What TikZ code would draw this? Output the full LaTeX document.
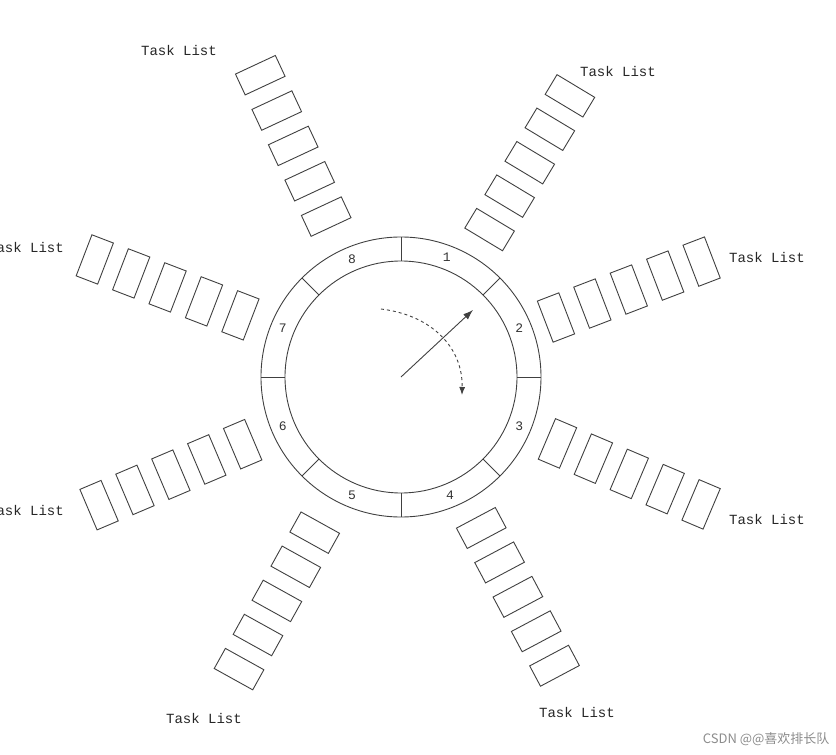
\documentclass[tikz,border=0pt]{standalone}
\usepackage{fontspec}
\setmainfont{Liberation Mono}
\newfontfamily\cjk{Noto Sans CJK SC}
\usetikzlibrary{arrows.meta}
\begin{document}
\begin{tikzpicture}[x=1pt,y=1pt,
  ln/.style={draw=black!75, line width=0.9pt},
  tbox/.style={ln, minimum width=23pt, minimum height=44pt, inner sep=0pt},
  lbl/.style={font=\fontsize{14}{16}\selectfont, text=black!85},
  num/.style={font=\fontsize{13}{15}\selectfont, text=black!80}]
\useasboundingbox (-401,-378) rectangle (435,377);
\begin{scope}
\clip (-401,-378) rectangle (435,377);
\coordinate (c) at (0,0);
\draw[ln] (c) circle (140);
\draw[ln] (c) circle (116);
\foreach \a in {0,45,...,315} \draw[ln] (\a:116) -- (\a:140);
\foreach \n/\a in {1/69,2/22.5,3/-22.5,4/-67.5,5/-112.5,6/-157.5,7/157.5,8/112.5}
  \node[num] (n\n) at (\a:128) {\n};
% arms
\foreach \k/\a/\d in {a/59/172,b/21/166,c/-23/170,d/-62/171,e/-119/178,f/203/172,g/159/172,h/115/177}{
  \foreach \i in {0,...,4}
    \node[tbox, rotate=\a] (\k\i) at (\a:\d+\i*39) {};
}
\node[lbl] (la) at (217,306) {Task List};
\node[lbl] (lb) at (366,120) {Task List};
\node[lbl] (lc) at (366,-142) {Task List};
\node[lbl] (ld) at (176,-335) {Task List};
\node[lbl] (le) at (-197,-341) {Task List};
\node[lbl] (lf) at (-375,-133) {Task List};
\node[lbl] (lg) at (-375,130) {Task List};
\node[lbl] (lh) at (-222,327) {Task List};
% hands
\coordinate (tip) at (72,67);
\draw[ln, -{Latex[length=10pt,width=7pt]}] (c) -- (tip);
\coordinate (s) at (-20,68);
\coordinate (e) at (61,-18);
\draw[ln, dashed, -{Latex[length=8pt,width=6pt]}] (s) .. controls (30,62) and (62,30) .. (e);
\node[font=\cjk\fontsize{13}{15}\selectfont, text=black!45, anchor=east] (wm) at (432,-362) {CSDN @@喜欢排长队};
\end{scope}
\end{tikzpicture}
\end{document}
